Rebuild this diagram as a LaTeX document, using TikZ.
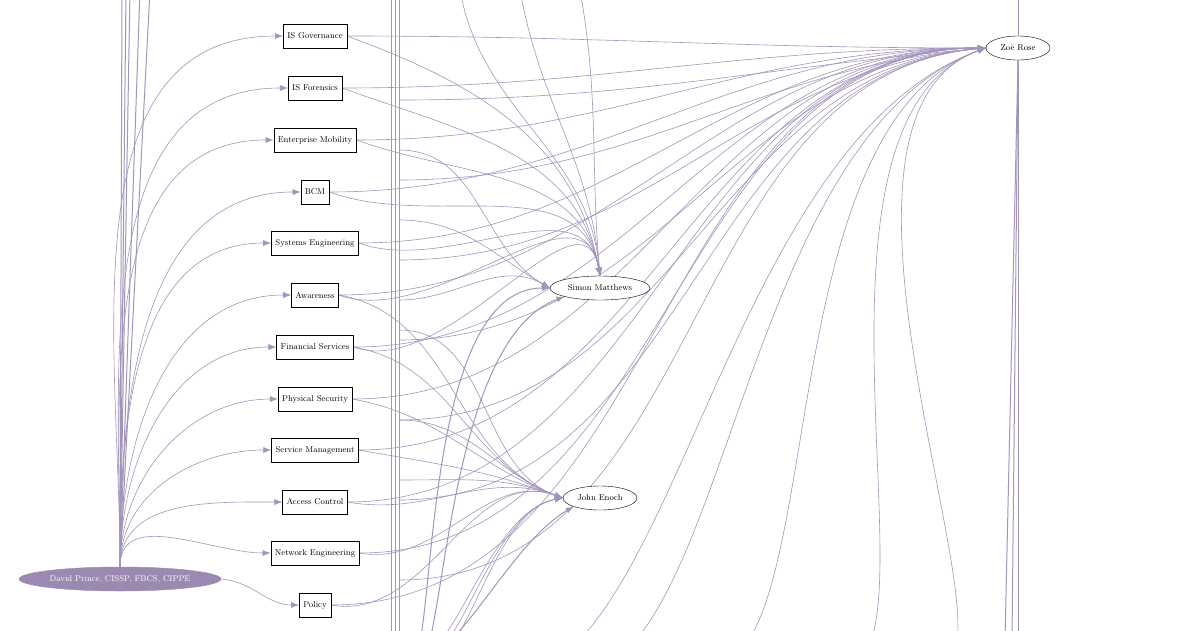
\documentclass[tikz,border=0pt]{standalone}
\usetikzlibrary{arrows.meta,shapes.geometric,backgrounds}
\begin{document}
\begin{tikzpicture}[x=1pt,y=-1pt,
  edge/.style={draw=ec,line width=0.6pt,-{Latex[length=8pt,width=6pt]}},
  bundle/.style={draw=ec,line width=0.6pt},
  topic/.style={draw,rectangle,fill=white,font=\fontsize{8.5}{10}\selectfont,inner sep=4pt,minimum height=24pt},
  person/.style={draw,ellipse,fill=white,font=\fontsize{8.5}{10}\selectfont,inner sep=1pt,minimum height=24pt}]
\definecolor{ec}{HTML}{A394BB}
\definecolor{dpc}{HTML}{9B89B2}
\useasboundingbox (0,0) rectangle (1200,630);
\coordinate (t1) at (122,-10); \coordinate (t2) at (126,-10); \coordinate (t3) at (130,-10);
\coordinate (t4) at (140,-10); \coordinate (t5) at (150,-10);
\coordinate (v1) at (391,-10); \coordinate (v2) at (395,-10); \coordinate (v3) at (399,-10);
\coordinate (b1) at (391,640); \coordinate (b2) at (395,640); \coordinate (b3) at (399,640);
\coordinate (z1) at (1005,640); \coordinate (z2) at (1012,640); \coordinate (z3) at (1018,640);
\coordinate (zt) at (1018,-10);
\coordinate (s1) at (580,-10); \coordinate (s2) at (520,-10); \coordinate (s3) at (460,-10);
\node[person,fill=dpc,draw=dpc,text=white,minimum width=200pt] (dp) at (120,579) {David Prince, CISSP, FBCS, CIPPE};
\node[person,minimum width=100pt] (sm) at (600,288) {Simon Matthews};
\node[person,minimum width=74pt] (je) at (600,498) {John Enoch};
\node[person,minimum width=64pt] (zr) at (1018,48) {Zoë Rose};
\foreach \n/\t/\y in {g/IS Governance/36,f/IS Forensics/88,em/Enterprise Mobility/140,bcm/BCM/192,se/Systems Engineering/243,aw/Awareness/295,fs/Financial Services/347,ps/Physical Security/399,svm/Service Management/450,ac/Access Control/502,ne/Network Engineering/553,po/Policy/605}
  \node[topic] (\n) at (315,\y) {\t};
\begin{scope}[on background layer]
\fill[white] (0,0) rectangle (1200,630);
\foreach \c in {t1,t2,t3,t4,t5} \draw[bundle,line width=1pt] (dp.north) -- (\c);
\foreach \a/\b in {v1/b1,v2/b2,v3/b3} \draw[bundle,line width=1pt] (\a) -- (\b);
\foreach \c in {z1,z2,z3} \draw[bundle,line width=1pt] (zr.south) -- (\c);
\draw[bundle,line width=1pt] (zr.north) -- (zt);
\foreach \n in {g,f,em,bcm,se,aw,fs,ps,svm,ac,ne}
  \draw[edge] (dp.north) to[out=90,in=180] (\n.west);
\draw[edge] (dp.east) to[out=-5,in=180] (po.west);
\foreach \n in {g,f,em,bcm,se,aw,fs,ps,svm,ac,ne,po}
  \draw[edge] (\n.east) to[out=0,in=180] (zr.west);
\foreach \n in {g,f,em,bcm,se,aw,fs}
  \draw[edge] (\n.east) to[out=-20,in=100] (sm.north);
\foreach \n in {aw,fs,ps,svm,ac,ne,po}
  \draw[edge] (\n.east) to[out=-10,in=160] (je.west);
\foreach \c in {s1,s2,s3} \draw[edge] (\c) to[out=-80,in=95] (sm.north);
\draw[edge,line width=1pt] (b3) to[out=-70,in=200] (sm.south west);
\draw[edge,line width=1pt] (b2) to[out=-70,in=180] (sm.west);
\foreach \x in {400,410,420} \draw[edge] (\x,640) to[out=-60,in=190] (je.west);
\draw[edge,line width=1pt] (b1) to[out=-60,in=210] (je.south west);
\foreach \x in {420,500,650,800,900} \draw[edge] (\x,640) to[out=-40,in=200] (zr.west);
\foreach \y in {100,180,260,340,420,500,580} \draw[edge] (399,\y) to[out=0,in=185] (zr.west);
\foreach \y in {330,420,480} \draw[edge] (399,\y) to[out=0,in=160] (je.west);
\foreach \y in {150,220,300} \draw[edge] (399,\y) to[out=0,in=150] (sm.west);
\end{scope}
\end{tikzpicture}
\end{document}
